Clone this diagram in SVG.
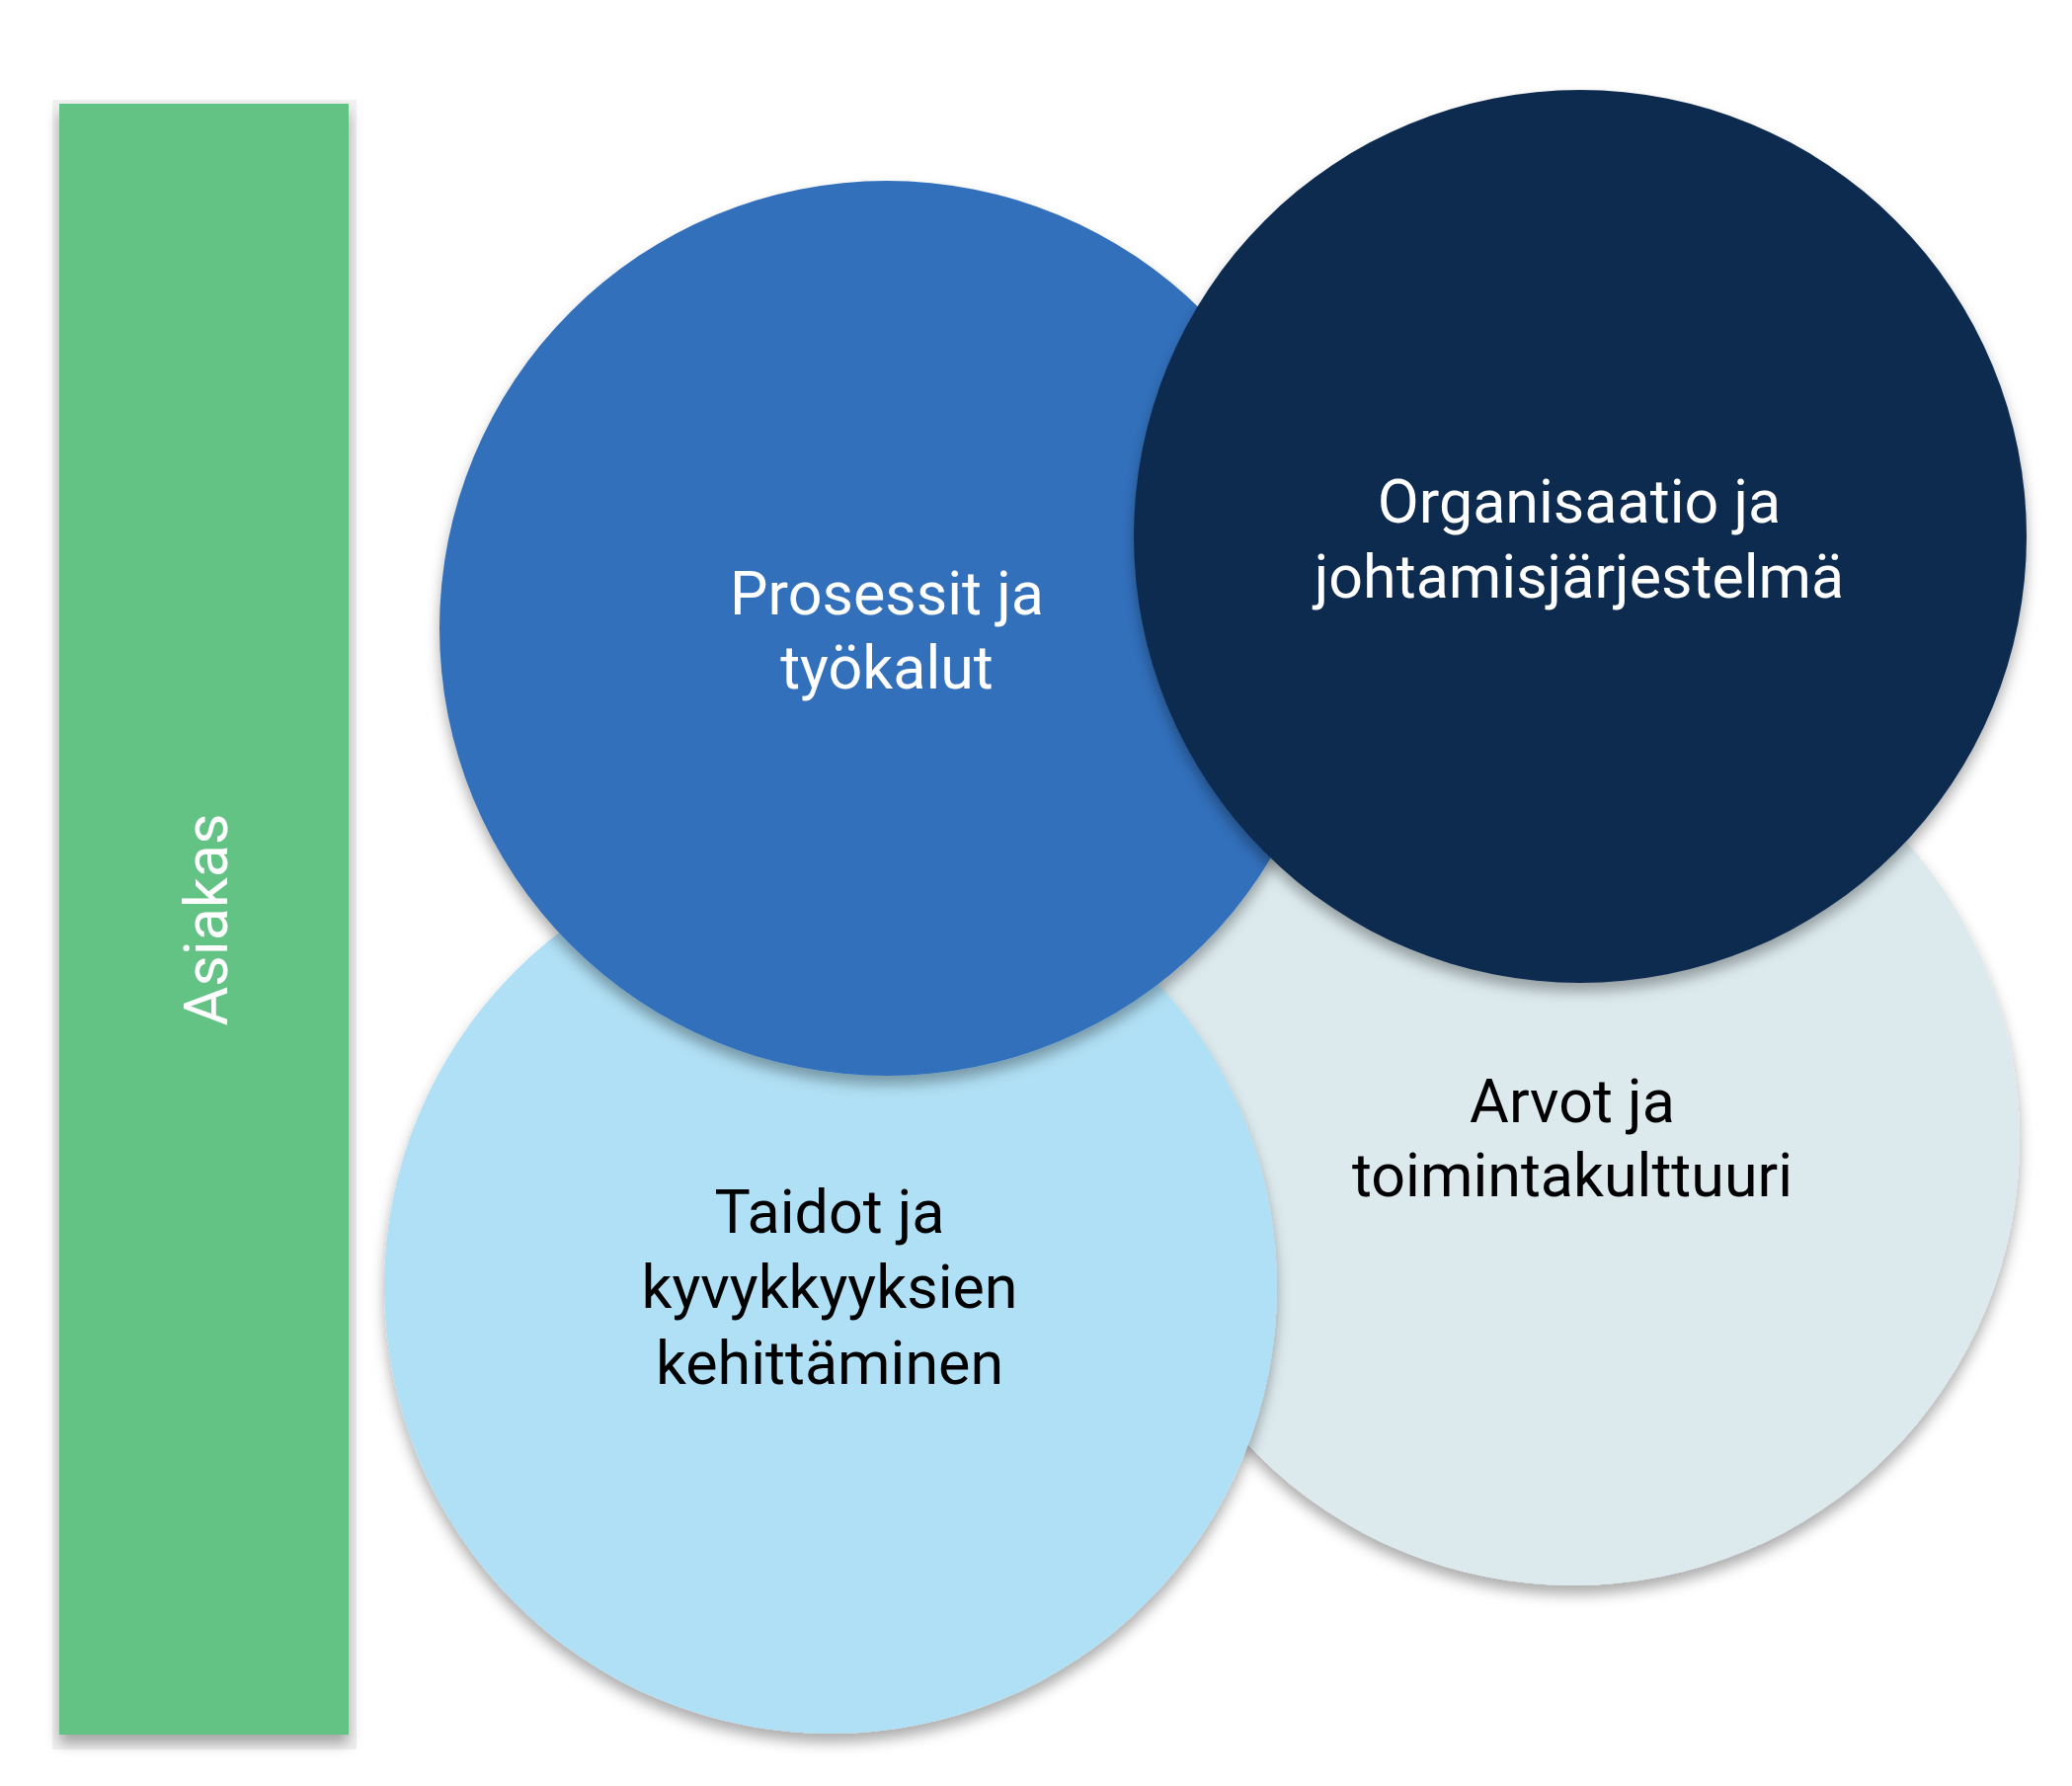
<svg xmlns="http://www.w3.org/2000/svg" width="2098" height="1808" viewBox="0 0 2098 1808">
  <style>
    .lbl { font-family: Roboto, "Liberation Sans", sans-serif; font-size: 61px; text-anchor: middle; }
    .w { fill: #ffffff; }
    .k { fill: #000000; }
  </style>
  <defs>
    <filter id="sh" x="-10%" y="-10%" width="120%" height="125%">
      <feDropShadow dx="0" dy="9" stdDeviation="7" flood-color="#000000" flood-opacity="0.32"/>
    </filter>
  </defs>
  <rect width="2098" height="1808" fill="#ffffff"/>
  <g id="asiakas">
    <rect x="53" y="101" width="308" height="1670" fill="#f1f1f1"/>
    <rect x="60" y="105" width="293" height="1651" fill="#64C385" filter="url(#sh)"/>
    <text class="lbl w" font-size="62" transform="translate(230 931) rotate(-90)" x="0" y="0">Asiakas</text>
  </g>
  <g id="connectors"></g>
  <g id="arvot">
    <circle cx="1593" cy="1153" r="452" fill="#DCEAEE" filter="url(#sh)"/>
    <text class="lbl k" x="1592" y="1136">Arvot ja</text>
    <text class="lbl k" x="1592" y="1211">toimintakulttuuri</text>
  </g>
  <g id="taidot">
    <circle cx="841" cy="1303" r="452" fill="#B0E0F5" filter="url(#sh)"/>
    <text class="lbl k" x="840" y="1248">Taidot ja</text>
    <text class="lbl k" x="840" y="1324">kyvykkyyksien</text>
    <text class="lbl k" x="840" y="1401">kehittäminen</text>
  </g>
  <g id="prosessit">
    <circle cx="898" cy="636" r="453" fill="#3370BC" filter="url(#sh)"/>
    <text class="lbl w" x="898" y="622">Prosessit ja</text>
    <text class="lbl w" x="898" y="697">työkalut</text>
  </g>
  <g id="organisaatio">
    <circle cx="1600" cy="543" r="452" fill="#0F2A4F" filter="url(#sh)"/>
    <text class="lbl w" x="1599" y="529">Organisaatio ja</text>
    <text class="lbl w" x="1599" y="605">johtamisjärjestelmä</text>
  </g>
</svg>
